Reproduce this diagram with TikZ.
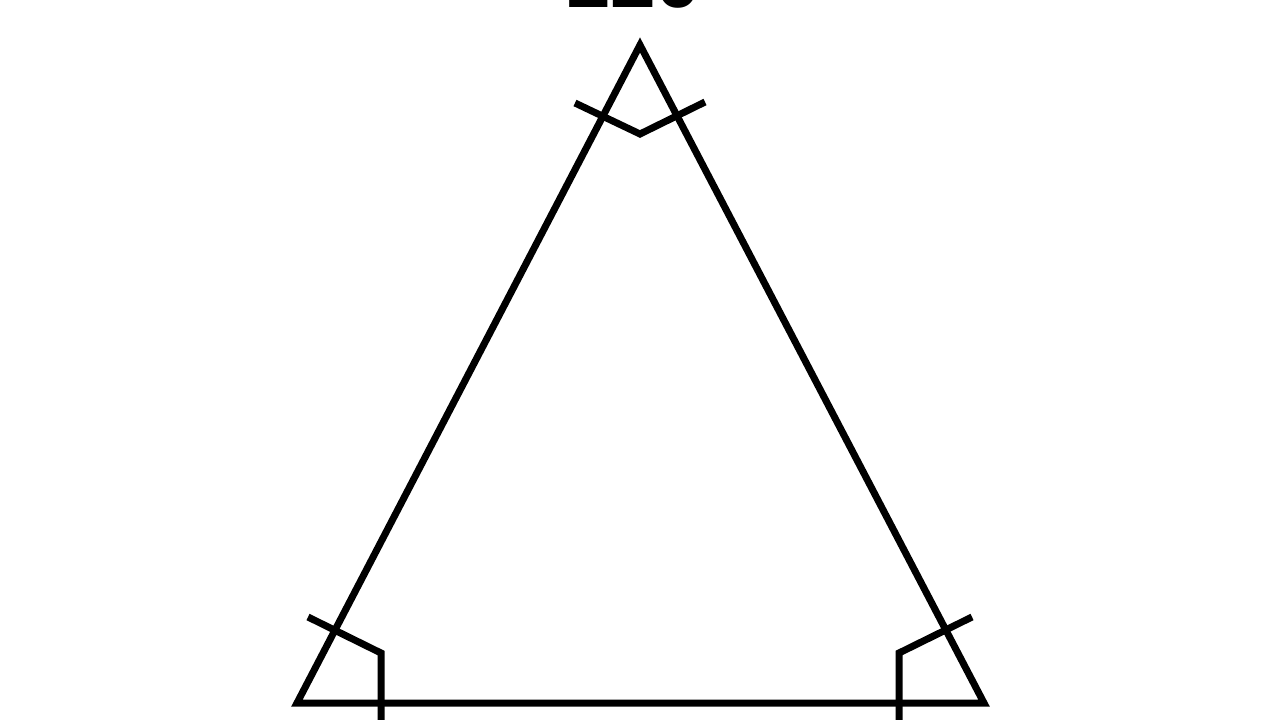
\documentclass[tikz,border=0pt]{standalone}
\usepackage{fontspec}
\setmainfont{Liberation Sans}
\begin{document}
\begin{tikzpicture}[x=1pt,y=-1pt,
  edge/.style={line width=7pt,line join=miter,black},
  anglemark/.style={line width=7pt,line join=miter,black}]
\useasboundingbox[fill=white] (0,0) rectangle (1280,720);
\coordinate (A) at (640,45);
\coordinate (B) at (297,703);
\coordinate (C) at (984,703);
\draw[edge] (A) -- (B) -- (C) -- cycle;
\coordinate (t1) at (575,103);
\coordinate (t2) at (640,134);
\coordinate (t3) at (705,102);
\draw[anglemark] (t1) -- (t2) -- (t3);
\coordinate (l1) at (308,617);
\coordinate (l2) at (381,653);
\coordinate (l3) at (381,730);
\draw[anglemark] (l1) -- (l2) -- (l3);
\coordinate (r1) at (972,617);
\coordinate (r2) at (899,653);
\coordinate (r3) at (899,730);
\draw[anglemark] (r1) -- (r2) -- (r3);
\node[anchor=base,font=\fontsize{82}{86}\selectfont\bfseries,inner sep=0pt] (lab) at (633,8) {120};
\end{tikzpicture}
\end{document}
